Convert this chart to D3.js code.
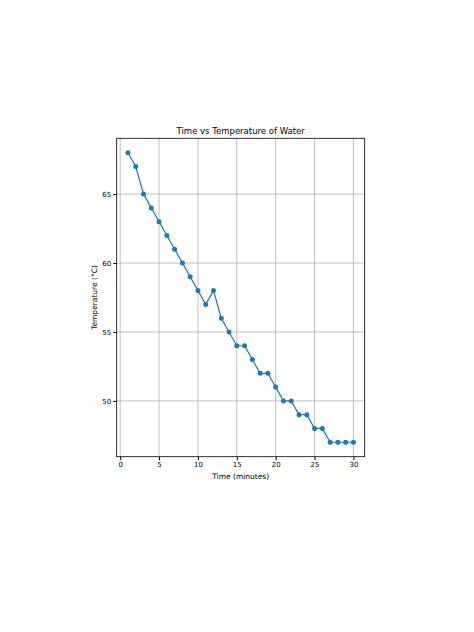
<!DOCTYPE html><html><head><script src="https://cdn.jsdelivr.net/npm/d3@7"></script>
<style>body{margin:0;background:#fff}text{font-family:"DejaVu Sans",sans-serif}</style></head><body><script>
const minutes=d3.range(1,31);
const temps=[68,67,65,64,63,62,61,60,59,58,57,58,56,55,54,54,53,52,52,51,50,50,49,49,48,48,47,47,47,47];
const xTicks=[0,5,10,15,20,25,30];
const yTicks=[50,55,60,65];
const L=116.7,R=364.7,T=138.3,B=456.7;
const svg=d3.select("body").append("svg").attr("width",474).attr("height",632);
const x=d3.scaleLinear().domain([-0.45,31.45]).range([L,R]);
const y=d3.scaleLinear().domain([45.95,69.05]).range([B,T]);
const g=svg.append("g");
g.selectAll(".gx").data(xTicks).join("line").attr("x1",d=>x(d)).attr("x2",d=>x(d)).attr("y1",T).attr("y2",B).attr("stroke","#b0b0b0").attr("stroke-width",0.8);
g.selectAll(".gy").data(yTicks).join("line").attr("y1",d=>y(d)).attr("y2",d=>y(d)).attr("x1",L).attr("x2",R).attr("stroke","#b0b0b0").attr("stroke-width",0.8);
const xa=svg.append("g").attr("transform",`translate(0,${B})`).call(d3.axisBottom(x).tickValues(xTicks).tickSize(3.5).tickPadding(2));
const ya=svg.append("g").attr("transform",`translate(${L},0)`).call(d3.axisLeft(y).tickValues(yTicks).tickSize(3.5).tickPadding(2));
[xa,ya].forEach(a=>{a.select(".domain").remove();a.selectAll("text").attr("font-size",7).attr("fill","#000").style("font-family","DejaVu Sans");});
svg.append("rect").attr("x",L).attr("y",T).attr("width",R-L).attr("height",B-T).attr("fill","none").attr("stroke","#000").attr("stroke-width",0.8);
const pts=minutes.map((m,i)=>[m,temps[i]]);
svg.append("path").attr("d",d3.line().x(d=>x(d[0])).y(d=>y(d[1]))(pts)).attr("fill","none").attr("stroke","#1f77b4").attr("stroke-width",1.2);
svg.selectAll(".pt").data(pts).join("circle").attr("cx",d=>x(d[0])).attr("cy",d=>y(d[1])).attr("r",2.5).attr("fill","#1f77b4");
svg.append("text").attr("x",(L+R)/2).attr("y",T-4).attr("text-anchor","middle").attr("font-size",8.5).text("Time vs Temperature of Water");
svg.append("text").attr("x",(L+R)/2).attr("y",B+22).attr("text-anchor","middle").attr("font-size",7.5).text("Time (minutes)");
svg.append("text").attr("transform",`translate(${L-20},${(T+B)/2}) rotate(-90)`).attr("text-anchor","middle").attr("font-size",7.5).text("Temperature (°C)");
</script></body></html>
